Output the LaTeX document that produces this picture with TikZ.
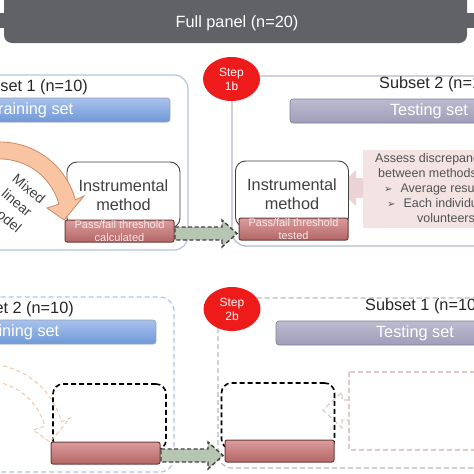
\documentclass[tikz,border=0pt]{standalone}
\usepackage{fontspec}
\setmainfont{Liberation Sans}
\newfontfamily\dingfont{DejaVu Sans}
\usetikzlibrary{shapes.geometric}
\definecolor{panelgray}{HTML}{616266}
\definecolor{stepred}{HTML}{EE1B1B}
\definecolor{trainedge}{HTML}{B3C3E3}
\definecolor{trainhi}{HTML}{A8C2EC}
\definecolor{trainlo}{HTML}{7098D6}
\definecolor{testedge}{HTML}{B6B8C4}
\definecolor{testhi}{HTML}{BDBBD0}
\definecolor{testlo}{HTML}{9F9DB8}
\definecolor{pfhi}{HTML}{DA9C9C}
\definecolor{pflo}{HTML}{B46666}
\definecolor{pfedge}{HTML}{6E3A3A}
\definecolor{pftext}{HTML}{F8E6E6}
\definecolor{flowfill}{HTML}{B6C6B2}
\definecolor{assessfill}{HTML}{F3E3E3}
\definecolor{assessarrow}{HTML}{EBD3D3}
\definecolor{assessghost}{HTML}{E2C8C8}
\definecolor{peach}{HTML}{F9C4A2}
\definecolor{peachedge}{HTML}{C98A66}
\definecolor{peachghost}{HTML}{F2C6A6}
\definecolor{txtgray}{HTML}{404040}
\newcommand{\bigtxt}{\fontsize{16.3}{19}\selectfont}
\newcommand{\bullettxt}{{\dingfont\fontsize{10}{10}\selectfont ➢}}
\begin{document}
\begin{tikzpicture}[x=1pt, y=-1pt,
  every node/.style={inner sep=0pt},
  subsetbox/.style={rounded corners=14pt, line width=1.2pt},
  subsettext/.style={text=black!85, font=\bigtxt},
  trainbar/.style={rounded corners=3pt, top color=trainhi, bottom color=trainlo, draw=trainedge!80!black, line width=0.6pt, minimum width=278pt, minimum height=24pt, text=white, font=\bigtxt},
  testbar/.style={rounded corners=3pt, top color=testhi, bottom color=testlo, draw=testlo!80!black, line width=0.6pt, minimum width=278pt, minimum height=24pt, text=white, font=\bigtxt},
  instbox/.style={draw=txtgray, line width=0.9pt, fill=white, rounded corners=10pt, minimum width=113pt, minimum height=66pt, align=center, text=txtgray, font=\bigtxt},
  ghostbox/.style={draw=black, fill=none, line width=1.6pt, dash pattern=on 5pt off 3pt},
  pfbar/.style={rounded corners=2pt, top color=pfhi, bottom color=pflo, draw=pfedge, line width=1pt, minimum width=109pt, minimum height=22pt, align=center, text=pftext, font=\fontsize{11}{13}\selectfont},
  flowarrow/.style={fill=flowfill, draw=txtgray, line width=1.4pt, dash pattern=on 4pt off 2.5pt},
  stepoval/.style={ellipse, fill=stepred, minimum width=57pt, minimum height=44pt, text=white, align=center, font=\fontsize{12}{14}\selectfont},
  modeltext/.style={rotate=-40, align=center, text=txtgray, font=\fontsize{14}{18.5}\selectfont},
  assesstext/.style={align=left, text=txtgray!90, font=\fontsize{12.5}{15}\selectfont}]
\pgfmathsetmacro{\rowstep}{222}
\useasboundingbox (0,0) rectangle (474,474);
\clip (0,0) rectangle (474,474);
% Full panel {{{
\fill[panelgray] (0,13) rectangle (474,28);
\fill[panelgray, rounded corners=8pt] (4,-12) rectangle (467,43);
\node[text=white, font=\bigtxt] (full) at (237,23) {Full panel (n=20)};
% }}}
\begin{scope} % Step 1: subset 1 trains, subset 2 tests {{{
\draw[trainedge, subsetbox] (-150,75) rectangle (188,250);
\draw[testedge, subsetbox] (232,76) rectangle (640,246);
\node[subsettext, anchor=east] (subA) at (88,87) {Subset 1 (n=10)};
\node[trainbar] (trainA) at (31,110) {Training set};
\node[subsettext, anchor=west] (subB) at (379,84) {Subset 2 (n=10)};
\node[testbar] (testA) at (429,111) {Testing set};
\node[instbox] (instA) at (123.5,195) {Instrumental\\method};
\filldraw[fill=peach, draw=peachedge, line width=0.8pt] (-78,220) arc[start angle=180, end angle=345, radius=78]
  -- (84,196) -- (64,220) -- (47,208) -- (58.9,204.2) arc[start angle=345, end angle=180, radius=61] -- cycle;
\node[modeltext] (model) at (17,203) {Mixed\\linear\\model};
\node[pfbar] (pfA) at (119.5,231) {Pass/fail threshold\\calculated};
\draw[flowarrow] (175,227) -- (222,227) -- (222,220) -- (237,233.5) -- (222,247) -- (222,240) -- (175,240) -- cycle;
\fill[assessfill] (363,150) rectangle (620,228);
\fill[assessarrow] (363,178) -- (356,178) -- (356,170) -- (337,188) -- (356,206) -- (356,198) -- (363,198) -- cycle;
\node[assesstext, anchor=north west] (assess) at (375,153) {Assess discrepancies\\
  \hspace*{3pt}between methods\\
  \hspace*{9pt}\bullettxt\hspace{8pt}Average results\\
  \hspace*{12pt}\bullettxt\hspace{8pt}Each individual\\
  \hspace*{42pt}volunteers};
\node[instbox] (instB) at (292,194) {Instrumental\\method};
\node[pfbar] (pfB) at (293.5,229) {Pass/fail threshold\\tested};
\end{scope} % }}}
\begin{scope}[shift={(-14,\rowstep)}] % Step 2: subset 2 trains, subset 1 tests {{{
\draw[trainedge, subsetbox, dash pattern=on 5pt off 3pt] (-150,75) rectangle (188,250);
\draw[testedge, subsetbox, dash pattern=on 5pt off 3pt] (232,76) rectangle (640,246);
\node[subsettext, anchor=east] (subC) at (88,87) {Subset 2 (n=10)};
\node[trainbar] (trainB) at (31,110) {Training set};
\node[subsettext, anchor=west] (subD) at (379,84) {Subset 1 (n=10)};
\node[testbar] (testB) at (429,111) {Testing set};
\node[instbox, ghostbox] (instC) at (123.5,195) {};
\draw[peachghost, line width=1pt, dash pattern=on 4pt off 3pt] (-78,220) arc[start angle=180, end angle=345, radius=78]
  -- (84,196) -- (64,220) -- (47,208) -- (58.9,204.2) arc[start angle=345, end angle=180, radius=61] -- cycle;
\node[pfbar] (pfC) at (119.5,231) {};
\draw[flowarrow] (175,227) -- (222,227) -- (222,220) -- (237,233.5) -- (222,247) -- (222,240) -- (175,240) -- cycle;
\draw[assessghost, line width=1.2pt, dash pattern=on 5pt off 3pt] (363,150) rectangle (620,228);
\draw[assessghost, line width=1.2pt, dash pattern=on 5pt off 3pt] (363,178) -- (356,178) -- (356,170) -- (337,188) -- (356,206) -- (356,198) -- (363,198);
\node[instbox, ghostbox] (instD) at (292,194) {};
\node[pfbar] (pfD) at (293.5,229) {};
\end{scope} % }}}
% Step ovals {{{
\node[stepoval] (stepA) at (231.5,79) {Step\\1b};
\node[stepoval] (stepB) at (232,309) {Step\\2b};
% }}}
\end{tikzpicture}
\end{document}
